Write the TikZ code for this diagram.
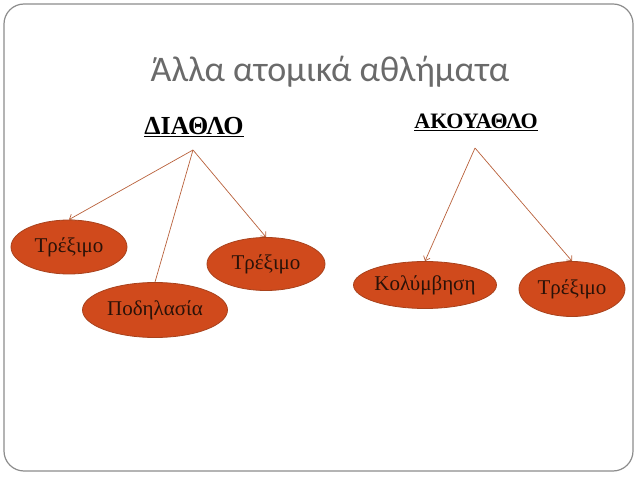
\documentclass[tikz,border=0pt]{standalone}
\usepackage{fontspec}
\setmainfont{Liberation Serif}
\newfontfamily\titlefont{Carlito}
\usepackage{xcolor}
\definecolor{rust}{HTML}{D04A1C}
\definecolor{rustline}{HTML}{A8421C}
\definecolor{arrowbrown}{HTML}{B8603A}
\definecolor{titlegray}{HTML}{6A6A6A}
\definecolor{framegray}{HTML}{8C8C8C}
\definecolor{labeltext}{HTML}{2A1208}
\usetikzlibrary{shapes.geometric,arrows.meta}
\tikzset{
    -{Straight Barb[length=4pt,width=7pt]},x=1pt,y=-1pt,
    sport/.style ={ellipse, draw=rustline, fill=rust, line width=0.8pt, inner sep=0pt,
                   text=labeltext, font=\fontsize{21}{21}\selectfont},
    group/.style = {font=\bfseries\fontsize{26}{26}\selectfont, inner sep=0pt},
    link/.style = {arrowbrown, line width=0.7pt}
}

\begin{document}
\begin{tikzpicture}
      \useasboundingbox (0,0) rectangle (638,478);
      \draw[-, framegray, line width=1.2pt, rounded corners=20pt] (4,4) rectangle (633,471);

      \node[titlegray, font=\titlefont\fontsize{36}{36}\selectfont] (title) at (330,72) {Άλλα ατομικά αθλήματα};
      \node[group] (diathlo) at (194,127) {\underline{ΔΙΑΘΛΟ}};
      \node[group, font=\bfseries\fontsize{22}{22}\selectfont] (akouathlo) at (476,122) {\underline{ΑΚΟΥΑΘΛΟ}};

      \coordinate (apexL) at (193,150);
      \coordinate (apexR) at (475,148);

      \node[sport, minimum width=116, minimum height=54] (run1) at (69,247) {Τρέξιμο};
      \node[sport, minimum width=145, minimum height=55] (bike) at (155,310) {Ποδηλασία};
      \node[sport, minimum width=118, minimum height=53] (run2) at (266,264) {Τρέξιμο};
      \node[sport, minimum width=134, minimum height=47] (swim) at (425,285) {Κολύμβηση};
      \node[sport, minimum width=106, minimum height=55] (run3) at (572,289) {Τρέξιμο};

      \path[link] (apexL) edge (run1.north);
      \path[link, -] (apexL) edge (bike.north);
      \path[link] (apexL) edge (run2.north);
      \path[link] (apexR) edge (swim.north);
      \path[link] (apexR) edge (run3.north);
\end{tikzpicture}
\end{document}
